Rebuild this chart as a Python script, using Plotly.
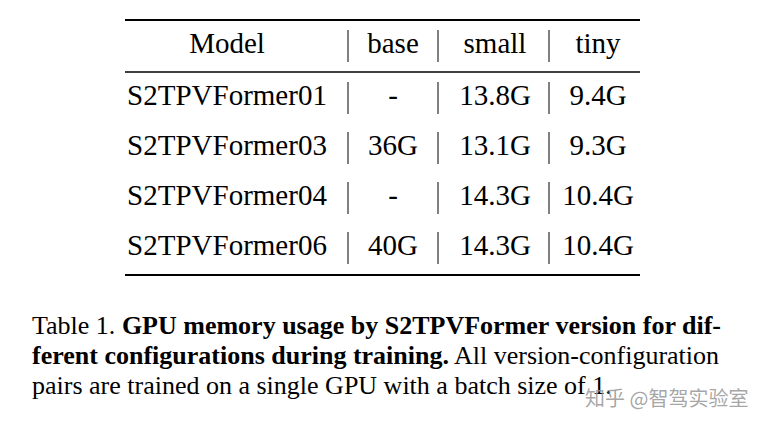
import plotly.graph_objects as go

# table contents
columns = ["Model", "base", "small", "tiny"]
models = ["S2TPVFormer01", "S2TPVFormer03", "S2TPVFormer04", "S2TPVFormer06"]
base = ["-", "36G", "-", "40G"]
small = ["13.8G", "13.1G", "14.3G", "14.3G"]
tiny = ["9.4G", "9.3G", "10.4G", "10.4G"]

caption = [
    "Table 1. <b>GPU memory usage by S2TPVFormer version for dif-</b>",
    "<b>ferent configurations during training.</b> All version-configuration",
    "pairs are trained on a single GPU with a batch size of 1.",
]

W, H = 770, 427
off = 8  # page offset in the browser
col_x = [227 - off, 393 - off, 495 - off, 598 - off]
sep_x = [348 - off, 438 - off, 549 - off]
header_y = 46 - off
row_y = [y - off for y in [98, 148, 198, 248]]
font = dict(family="Liberation Serif, Times New Roman, serif", size=29, color="black")

fig = go.Figure()

# header
fig.add_trace(go.Scatter(x=col_x, y=[header_y] * 4, text=columns, mode="text",
                         textfont=font, showlegend=False, hoverinfo="skip"))
# body
for i, vals in enumerate([models, base, small, tiny]):
    fig.add_trace(go.Scatter(x=[col_x[i]] * len(vals), y=row_y, text=vals, mode="text",
                             textfont=font, showlegend=False, hoverinfo="skip"))

# rules
for y, w in [(20, 2), (72, 1.3), (275, 2)]:
    fig.add_shape(type="line", x0=125 - off, x1=640 - off, y0=y - off, y1=y - off,
                  line=dict(color="black", width=w))
for y in [header_y] + row_y:
    for x in sep_x:
        fig.add_shape(type="line", x0=x, x1=x, y0=y - 16, y1=y + 16,
                      line=dict(color="black", width=1))

# caption
for k, line in enumerate(caption):
    fig.add_annotation(x=30 - off, y=325 - off + 30 * k, text=line, showarrow=False,
                       xanchor="left", yanchor="middle",
                       font=dict(family=font["family"], size=26, color="black"))

# watermark
fig.add_annotation(x=750 - off, y=397 - off, text="知乎 @智驾实验室", showarrow=False,
                   xanchor="right", yanchor="middle",
                   font=dict(family="Noto Sans CJK SC", size=20, color="rgba(150,150,150,0.85)"))

fig.update_layout(
    width=W, height=H, margin=dict(l=0, r=0, t=0, b=0),
    plot_bgcolor="white", paper_bgcolor="white",
    xaxis=dict(range=[0, W], visible=False, fixedrange=True),
    yaxis=dict(range=[H, 0], visible=False, fixedrange=True),
)

fig.write_html("out.html")
